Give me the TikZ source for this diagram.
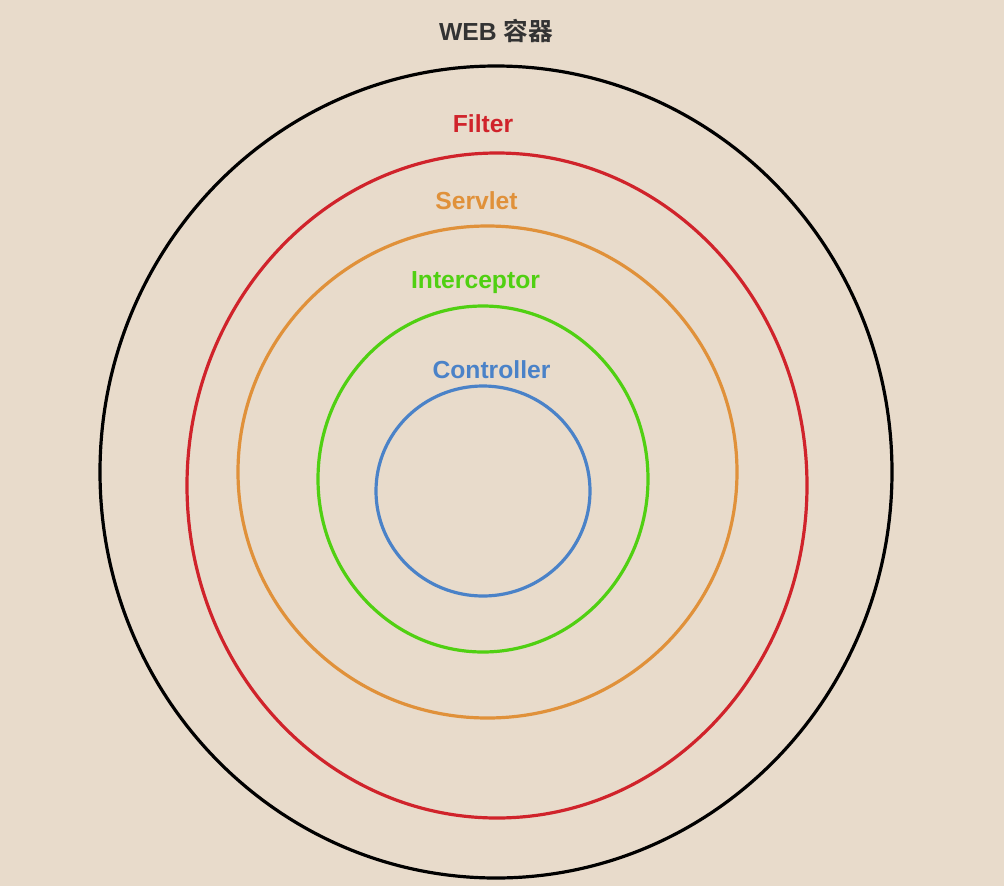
\documentclass[tikz,border=0pt]{standalone}
\usepackage{fontspec}
\setmainfont{Liberation Sans}
\newfontfamily\cjk{Noto Sans CJK SC}[BoldFont={* Bold}]
\definecolor{bgc}{HTML}{E8DBCB}
\definecolor{redc}{HTML}{D0232B}
\definecolor{orc}{HTML}{E0913A}
\definecolor{grc}{HTML}{50D012}
\definecolor{blc}{HTML}{4A82C8}
\definecolor{txc}{HTML}{333333}
\begin{document}
\begin{tikzpicture}[x=0.75pt,y=-0.75pt,
  ring/.style={line width=2.4pt},
  lbl/.style={anchor=base,font=\fontsize{18.5}{22}\selectfont\bfseries,inner sep=0pt}]
\fill[bgc] (0,0) rectangle (1004,886);
\useasboundingbox (0,0) rectangle (1004,886);
\draw[ring,black] (496,472) ellipse [x radius=396,y radius=406];
\draw[ring,redc] (497,485.5) ellipse [x radius=310,y radius=332.5];
\draw[ring,orc] (487.5,472) ellipse [x radius=249.5,y radius=246];
\draw[ring,grc] (483,479) ellipse [x radius=165,y radius=173];
\draw[ring,blc] (483,491) ellipse [x radius=107,y radius=105];
\node[lbl,text=txc] (web) at (496,40) {WEB {\cjk 容器}};
\node[lbl,text=redc] (filter) at (483,132) {Filter};
\node[lbl,text=orc] (servlet) at (476.5,209) {Servlet};
\node[lbl,text=grc] (inter) at (475.5,288) {Interceptor};
\node[lbl,text=blc] (ctrl) at (491.5,378) {Controller};
\end{tikzpicture}
\end{document}
